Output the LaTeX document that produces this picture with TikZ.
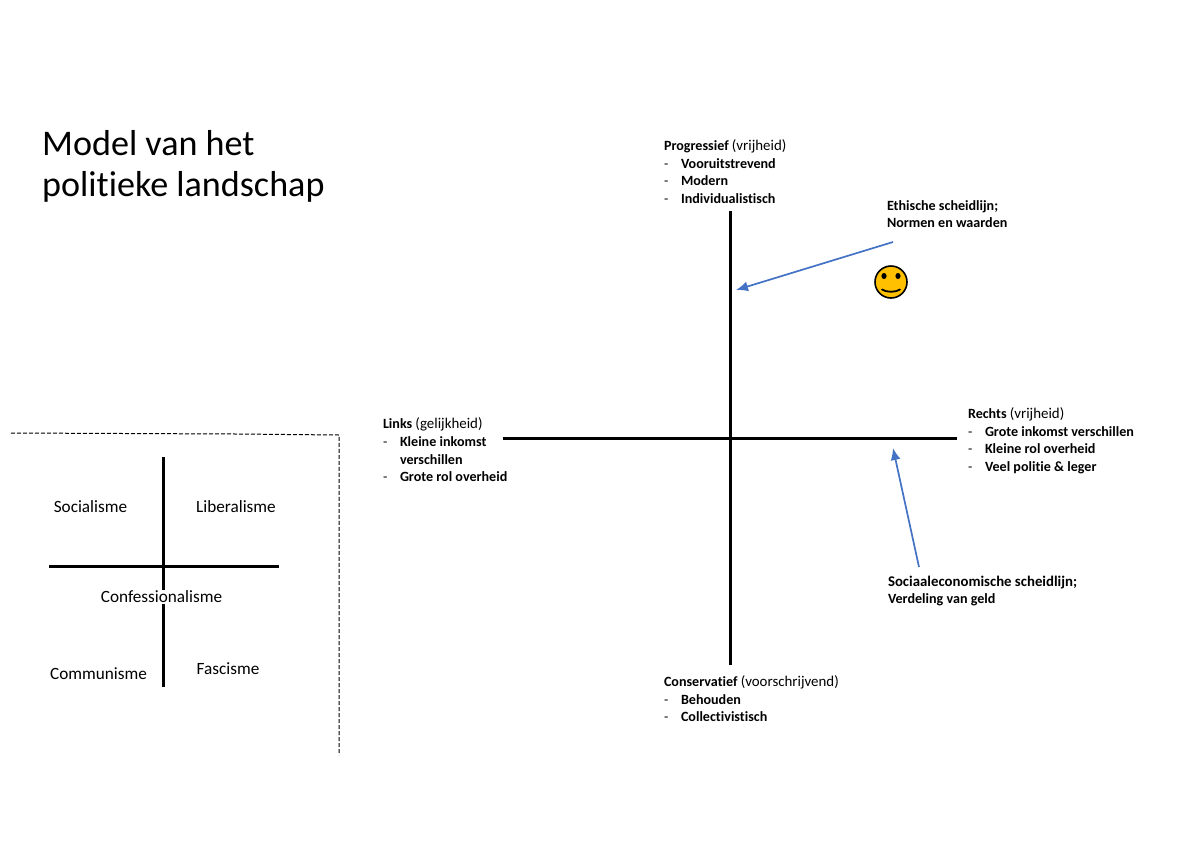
\documentclass[tikz,border=0pt]{standalone}
\usepackage{fontspec}
\setmainfont[Ligatures=CommonOff]{Carlito}
\usetikzlibrary{arrows.meta}
\definecolor{arrowblue}{HTML}{4472C4}
\definecolor{smiley}{HTML}{FFC000}
\newcommand{\itm}[1]{\makebox[17pt][l]{\textmd{-}}#1}
\newcommand{\hdr}[1]{{\fontsize{14.9}{17.6}\selectfont\mdseries #1}}
\tikzset{
  axisline/.style={line width=3pt,black},
  noteline/.style={arrowblue,line width=1.7pt,-{Latex[length=12pt,width=10pt]}},
  frameline/.style={black,line width=1pt,dash pattern=on 4pt off 2pt},
  label/.style={anchor=north west,inner sep=0pt,outer sep=0pt,align=left,font=\fontsize{14.1}{17.6}\selectfont\bfseries},
  widelabel/.style={label,font=\fontsize{14.8}{17.6}\selectfont\bfseries},
  ideology/.style={inner sep=0pt,font=\fontsize{17.2}{19}\selectfont},
}
\begin{document}
\begin{tikzpicture}[x=1pt,y=-1pt]
\useasboundingbox (0,0) rectangle (1200,849);
\fill[white] (0,0) rectangle (1200,849);
% title
\node (title) [anchor=north west,inner sep=0pt,align=left,font=\fontsize{36.1}{41}\selectfont] at (42,130.5) {Model van het\\politieke landschap};
% main axes
\coordinate (top) at (730,211);
\coordinate (bottom) at (730,665);
\coordinate (left) at (503,438);
\coordinate (right) at (957,438);
\draw[axisline] (top) -- (bottom);
\draw[axisline] (left) -- (right);
% labels
\node (prog) [label] at (664,139.5) {Progressief \hdr{(vrijheid)}\\\itm{Vooruitstrevend}\\\itm{Modern}\\\itm{Individualistisch}};
\node (rechts) [label] at (968,407.5) {Rechts \hdr{(vrijheid)}\\\itm{Grote inkomst verschillen}\\\itm{Kleine rol overheid}\\\itm{Veel politie \& leger}};
\node (links) [label] at (383,418) {Links \hdr{(gelijkheid)}\\\itm{Kleine inkomst}\\\hspace*{17pt}verschillen\\\itm{Grote rol overheid}};
\node (cons) [label] at (664,675.5) {Conservatief \hdr{(voorschrijvend)}\\\itm{Behouden}\\\itm{Collectivistisch}};
\node (eth) [label] at (887,200.5) {Ethische scheidlijn;\\Normen en waarden};
\node (soc) [widelabel] at (888,576) {Sociaaleconomische scheidlijn;\\\fontsize{14.1}{17.6}\selectfont Verdeling van geld};
% arrows
\coordinate (ethstart) at (893,242);
\coordinate (ethend) at (736,290);
\coordinate (socstart) at (919,567);
\coordinate (socend) at (893,448);
\draw[noteline] (ethstart) -- (ethend);
\draw[noteline] (socstart) -- (socend);
% smiley
\node (face) [circle,draw=black,line width=1.6pt,fill=smiley,minimum size=32pt,inner sep=0pt] at (891,282) {};
\fill (884,276) ellipse (2.6pt and 3pt);
\fill (898,276) ellipse (2.6pt and 3pt);
\draw[line width=1.8pt,line cap=round] (882,289.5) .. controls (886,292.5) and (896,292.5) .. (900,289.5);
% frame
\coordinate (f1) at (11,433);
\coordinate (f2) at (236,434);
\coordinate (f3) at (339,435);
\coordinate (f4) at (339,755);
\draw[frameline] (f1) -- (f2) -- (f3) -- (f4);
% small axes
\coordinate (stop) at (163,457);
\coordinate (sbot) at (163,687);
\coordinate (sleft) at (49,566);
\coordinate (sright) at (279,566);
\draw[axisline] (stop) -- (sbot);
\draw[axisline] (sleft) -- (sright);
\node (socialisme) [ideology] at (90.5,507) {Socialisme};
\node (liberalisme) [ideology] at (236,507) {Liberalisme};
\node (confes) [ideology,fill=white,inner ysep=1pt] at (161.5,597) {Confessionalisme};
\node (communisme) [ideology] at (98.5,674) {Communisme};
\node (fascisme) [ideology] at (228,669) {Fascisme};
\end{tikzpicture}
\end{document}
